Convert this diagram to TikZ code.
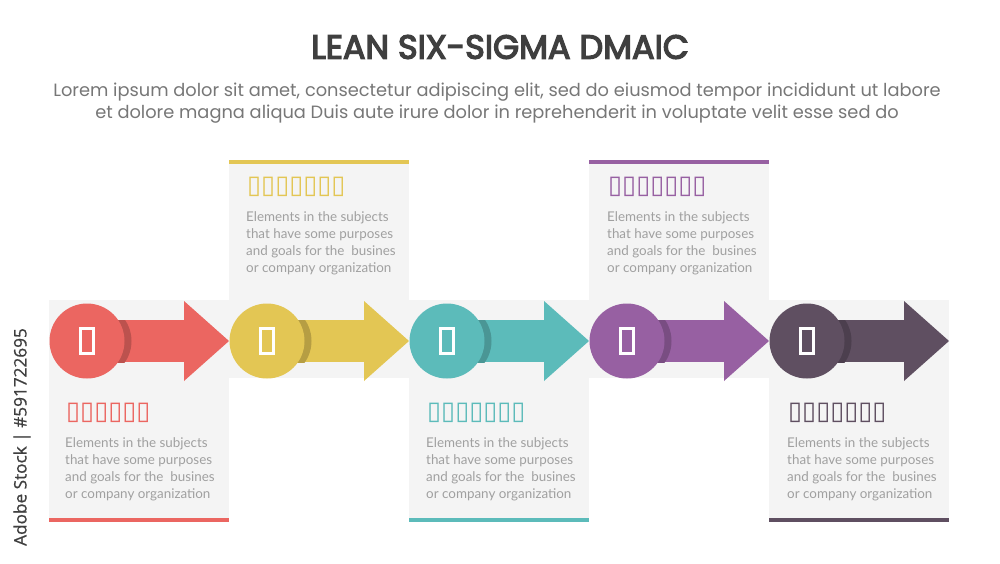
\documentclass[tikz,border=0pt]{standalone}
\usepackage{fontspec}
\setmainfont{Lato}
\newfontfamily\poppins{Poppins}
\newfontfamily\poppinsfb[FakeBold=4]{Poppins}
\newfontfamily\opensans[FakeBold=0.8]{Open Sans}
\newfontfamily\dejavu{DejaVu Sans}
\definecolor{cRed}{HTML}{EB6661}
\definecolor{cYel}{HTML}{E3C654}
\definecolor{cTeal}{HTML}{5CBBBA}
\definecolor{cPur}{HTML}{9760A2}
\definecolor{cDark}{HTML}{5F4F61}
\definecolor{panel}{HTML}{F4F4F4}
\definecolor{bodytext}{HTML}{A0A0A0}
\definecolor{titletext}{HTML}{3F3F3F}
\definecolor{subtext}{HTML}{777777}
\begin{document}
\begin{tikzpicture}[x=1pt,y=-1pt,
  panelbox/.style={fill=panel,draw=none},
  bar/.style={line width=4pt},
  dot/.style={circle,minimum size=75pt,inner sep=0pt,draw=none},
  icon/.style={draw=white,line width=3.4pt,minimum width=13pt,minimum height=25pt,inner sep=0pt},
  boxes/.style={font=\dejavu\fontsize{25.5}{25}\selectfont,inner sep=0pt,anchor=west},
  body/.style={font=\fontsize{13.4}{17}\selectfont,text=bodytext,align=left,inner sep=0pt,anchor=north west}
]
\useasboundingbox (0,0) rectangle (1000,563);
\fill[white] (0,0) rectangle (1000,563);

% title
\node[font=\poppinsfb\fontsize{33.5}{34}\selectfont,text=titletext] (title) at (500,47) {LEAN SIX-SIGMA DMAIC};
\node[font=\poppins\fontsize{17.8}{22}\selectfont,text=subtext,align=center] (sub) at (497,103)
 {Lorem ipsum dolor sit amet, consectetur adipiscing elit, sed do eiusmod tempor incididunt ut labore\\
  et dolore magna aliqua Duis aute irure dolor in reprehenderit in voluptate velit esse sed do};

% watermark
\node[rotate=90,font=\opensans\fontsize{17.2}{17}\selectfont,text=titletext] (wm) at (22,437) {Adobe Stock | \#591722695};

% panels
\fill[panelbox] (49,300) rectangle (229,520);
\fill[panelbox] (229,162) rectangle (409,378);
\fill[panelbox] (409,300) rectangle (589,520);
\fill[panelbox] (589,162) rectangle (769,378);
\fill[panelbox] (769,300) rectangle (949,520);
\draw[bar,cRed] (49,520) -- (229,520);
\draw[bar,cYel] (229,162) -- (409,162);
\draw[bar,cTeal] (409,520) -- (589,520);
\draw[bar,cPur] (589,162) -- (769,162);
\draw[bar,cDark] (769,520) -- (949,520);

% arrows
\foreach \c/\col/\n in {87/cRed/1,267/cYel/2,447/cTeal/3,627/cPur/4,807/cDark/5}{
  \fill[\col] (\c,320) rectangle (\c+98,362);
  \fill[\col] (\c+97,301) -- (\c+142,341) -- (\c+97,381) -- cycle;
  \begin{scope}
    \clip (\c,320) rectangle (\c+98,362);
    \fill[\col!80!black] (\c+7,341) circle (37.5);
  \end{scope}
  \node[dot,fill=\col] (c\n) at (\c,341) {};
  \node[icon] (i\n) at (c\n) {};
}

% headings (boxes)
\node[boxes,text=cRed] (h1) at (66,413) {▯▯▯▯▯▯};
\node[boxes,text=cYel] (h2) at (247,187) {▯▯▯▯▯▯▯};
\node[boxes,text=cTeal] (h3) at (427,413) {▯▯▯▯▯▯▯};
\node[boxes,text=cPur] (h4) at (608,187) {▯▯▯▯▯▯▯};
\node[boxes,text=cDark] (h5) at (788,413) {▯▯▯▯▯▯▯};

% body texts
\newcommand{\bodytxt}{Elements in the subjects\\that have some purposes\\and goals for the \ busines\\or company organization}
\node[body] (t1) at (65,437) {\bodytxt};
\node[body] (t2) at (246,211) {\bodytxt};
\node[body] (t3) at (426,437) {\bodytxt};
\node[body] (t4) at (607,211) {\bodytxt};
\node[body] (t5) at (787,437) {\bodytxt};
\end{tikzpicture}
\end{document}
